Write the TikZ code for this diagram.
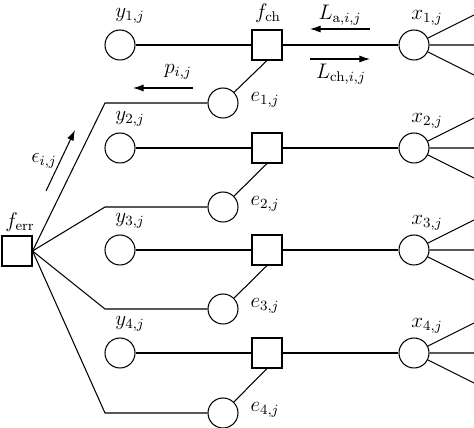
\documentclass[tikz,border=0pt]{standalone}
\usepackage{tikz}
\usetikzlibrary{arrows.meta}
\tikzstyle{var}=[circle, draw, minimum size=0.6cm, inner sep=0pt]
\tikzstyle{fac}=[draw, rectangle, minimum size=0.6cm, inner sep=0pt]
\tikzstyle{lbl}=[font=\large]
\tikzstyle{msg}=[-{Latex[length=6pt,width=4pt]}]

\begin{document}
\begin{tikzpicture}[x=0.02cm,y=-0.02cm,semithick]
  \useasboundingbox (0,0) rectangle (474,428);
  \node at (17,251) (ferr)[fac]{};
    \path (ferr) +(3,-29) node[lbl] (ferrl) {$f_{\mathrm{err}}$};

  % row 1
  \node at (120,45) (y1)[var]{};
  \node at (267,45) (fch1)[fac]{};
  \node at (414,45) (x1)[var]{};
  \node at (223,103) (e1)[var]{};
    \path (y1) +(10,-29) node[lbl] {$y_{1,j}$};
    \path (fch1) +(1,-32) node[lbl] {$f_{\mathrm{ch}}$};
    \path (x1) +(13,-27) node[lbl] {$x_{1,j}$};
    \path (e1) +(42,-3) node[lbl] {$e_{1,j}$};
    \path (e1) +(-118,0) coordinate (k1);
    \path (x1) +(60,-30) coordinate (x1u) +(60,0) coordinate (x1m) +(60,30) coordinate (x1d);
  \draw (y1) -- (fch1) -- (x1);
  \draw (e1) -- (fch1.south);
  \draw (ferr.east) -- (k1) -- (e1);
  \draw (x1) -- (x1u) (x1) -- (x1m) (x1) -- (x1d);

  % row 2
  \node at (120,148) (y2)[var]{};
  \node at (267,148) (fch2)[fac]{};
  \node at (414,148) (x2)[var]{};
  \node at (223,207) (e2)[var]{};
    \path (y2) +(10,-29) node[lbl] {$y_{2,j}$};
    \path (x2) +(13,-27) node[lbl] {$x_{2,j}$};
    \path (e2) +(42,-3) node[lbl] {$e_{2,j}$};
    \path (e2) +(-118,0) coordinate (k2);
    \path (x2) +(60,-30) coordinate (x2u) +(60,0) coordinate (x2m) +(60,30) coordinate (x2d);
  \draw (y2) -- (fch2) -- (x2);
  \draw (e2) -- (fch2.south);
  \draw (ferr.east) -- (k2) -- (e2);
  \draw (x2) -- (x2u) (x2) -- (x2m) (x2) -- (x2d);

  % row 3
  \node at (120,250) (y3)[var]{};
  \node at (267,250) (fch3)[fac]{};
  \node at (414,250) (x3)[var]{};
  \node at (223,309) (e3)[var]{};
    \path (y3) +(10,-29) node[lbl] {$y_{3,j}$};
    \path (x3) +(13,-27) node[lbl] {$x_{3,j}$};
    \path (e3) +(42,-3) node[lbl] {$e_{3,j}$};
    \path (e3) +(-118,0) coordinate (k3);
    \path (x3) +(60,-30) coordinate (x3u) +(60,0) coordinate (x3m) +(60,30) coordinate (x3d);
  \draw (y3) -- (fch3) -- (x3);
  \draw (e3) -- (fch3.south);
  \draw (ferr.east) -- (k3) -- (e3);
  \draw (x3) -- (x3u) (x3) -- (x3m) (x3) -- (x3d);

  % row 4
  \node at (120,353) (y4)[var]{};
  \node at (267,353) (fch4)[fac]{};
  \node at (414,353) (x4)[var]{};
  \node at (223,413) (e4)[var]{};
    \path (y4) +(10,-29) node[lbl] {$y_{4,j}$};
    \path (x4) +(13,-27) node[lbl] {$x_{4,j}$};
    \path (e4) +(42,-3) node[lbl] {$e_{4,j}$};
    \path (e4) +(-118,0) coordinate (k4);
    \path (x4) +(60,-30) coordinate (x4u) +(60,0) coordinate (x4m) +(60,30) coordinate (x4d);
  \draw (y4) -- (fch4) -- (x4);
  \draw (e4) -- (fch4.south);
  \draw (ferr.east) -- (k4) -- (e4);
  \draw (x4) -- (x4u) (x4) -- (x4m) (x4) -- (x4d);

  % messages
  \coordinate (pa) at (193,88);
  \coordinate (pb) at (133,88);
  \draw[msg] (pa) -- (pb);
    \path (pa) +(-15,-16) node[lbl] {$p_{i,j}$};
  \coordinate (la) at (370,29);
  \coordinate (lb) at (310,29);
  \draw[msg] (la) -- (lb);
    \path (la) +(-30,-14) node[lbl] {$L_{\mathrm{a},i,j}$};
  \coordinate (lc) at (310,59);
  \coordinate (ld) at (370,59);
  \draw[msg] (lc) -- (ld);
    \path (lc) +(31,15) node[lbl] {$L_{\mathrm{ch},i,j}$};
  \coordinate (ea) at (46,191);
  \coordinate (eb) at (75,130);
  \draw[msg] (ea) -- (eb);
    \path (ea) +(-2,-30) node[lbl] {$\epsilon_{i,j}$};
\end{tikzpicture}
\end{document}
